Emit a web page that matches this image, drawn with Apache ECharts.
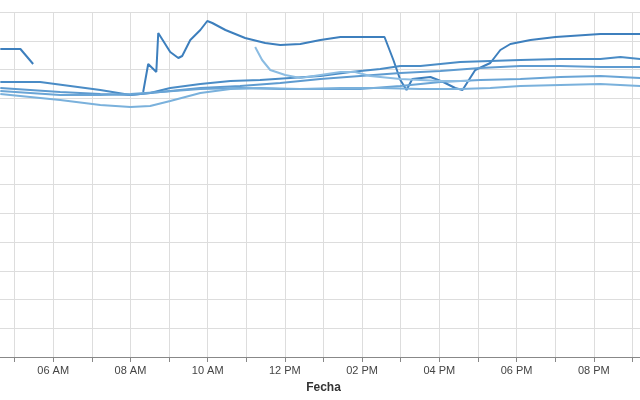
<!DOCTYPE html>
<html><head><meta charset="utf-8">
<script src="https://cdn.jsdelivr.net/npm/echarts@6/dist/echarts.min.js"></script>
<style>html,body{margin:0;padding:0;background:#fff;overflow:hidden}#c{width:640px;height:400px}</style>
</head><body><div id="c"></div>
<script>
// hours of day (decimal) and readings
const hoursA = [4.63, 5.15, 5.48, null, 8.33, 8.46, 8.67, 8.72, 9.03, 9.24, 9.34, 9.55, 9.81, 9.99, 10.12, 10.46, 10.97, 11.49, 11.88, 12.40, 12.92, 13.44, 14.47, 14.58, 14.81, 14.99, 15.15, 15.30, 15.77, 16.10, 16.41, 16.60, 16.93, 17.32, 17.58, 17.84, 18.36, 19.01, 20.17, 21.21];
const valuesA = [308, 308, 293, null, 265, 293, 285, 324, 305, 299, 301, 317, 327, 336, 334, 327, 319, 314, 312, 313, 317, 320, 320, 320, 297, 277, 267, 278, 280, 275, 269, 267, 287, 294, 307, 313, 317, 320, 323, 323];

const hoursB = [4.63, 5.66, 6.44, 7.22, 8.0, 8.51, 9.03, 9.81, 10.59, 11.36, 12.14, 12.92, 13.70, 14.47, 14.99, 15.51, 16.54, 17.32, 18.10, 19.13, 20.17, 20.69, 21.21];
const valuesB = [275, 275, 271, 267, 262, 264, 269, 273, 276, 277, 279, 281, 285, 288, 291, 291, 295, 296, 297, 298, 298, 300, 298];

const hoursC = [4.63, 6.18, 7.22, 8.0, 8.77, 9.81, 10.84, 11.88, 12.92, 13.95, 14.99, 16.03, 17.06, 18.10, 19.13, 20.17, 21.21];
const valuesC = [269, 265, 263, 262, 265, 269, 271, 274, 278, 281, 284, 286, 289, 291, 291, 290, 290];

const hoursD = [4.63, 6.18, 7.22, 8.0, 8.77, 9.81, 10.84, 11.88, 12.92, 13.95, 14.99, 16.03, 17.06, 18.10, 19.13, 20.17, 21.21];
const valuesD = [266, 262, 262, 263, 265, 268, 269, 268, 268, 268, 271, 275, 277, 278, 280, 281, 279];

const hoursE = [4.63, 6.18, 7.22, 8.0, 8.51, 9.03, 9.81, 10.59, 11.36, 12.40, 13.44, 14.47, 15.51, 16.54, 17.32, 18.10, 19.13, 20.17, 21.21];
const valuesE = [263, 257, 252, 250, 251, 256, 264, 268, 269, 268, 269, 269, 268, 268, 269, 271, 272, 273, 271];

const hoursF = [11.23, 11.41, 11.62, 12.01, 12.40, 12.92, 13.44, 13.82, 14.21, 14.99, 16.03, 16.80];
const valuesF = [310, 297, 287, 282, 279, 282, 285, 285, 281, 278, 276, 276];

const colors = ['#3d7fbd', '#4a8cc6', '#5e9bd0', '#6aa5d6', '#7ab1dc', '#8bbce2'];

function pairs(h, v) { return h.map((x, i) => x === null ? [null, null] : [x, v[i]]); }

function fmtHour(h) {
  if (h % 2 !== 0 || h <= 4 || h >= 22) return '';
  const hh = h % 12 === 0 ? 12 : h % 12;
  return String(hh).padStart(2, '0') + (h < 12 ? ' AM' : ' PM');
}

const chart = echarts.init(document.getElementById('c'));
const line = (name, h, v, c) => ({
  name, type: 'line', data: pairs(h, v), showSymbol: false, connectNulls: false,
  lineStyle: { width: 2, color: c }, itemStyle: { color: c }
});

chart.setOption({
  animation: false,
  grid: { left: -24, right: -31, top: 12, bottom: 43, containLabel: false, outerBoundsMode: 'none' },
  xAxis: {
    type: 'value', min: 4, max: 22, interval: 1,
    name: 'Fecha', nameLocation: 'middle', nameGap: 25,
    nameTextStyle: { fontWeight: 'bold', fontSize: 12, color: '#333', fontFamily: 'Liberation Sans' },
    axisLine: { lineStyle: { color: '#888' } },
    axisTick: { length: 5, lineStyle: { color: '#888' } },
    axisLabel: { formatter: fmtHour, fontSize: 11, color: '#444', fontFamily: 'Liberation Sans', margin: 8 },
    splitLine: { lineStyle: { color: '#ddd' } }
  },
  yAxis: {
    type: 'value', min: 0, max: 345, interval: 28.75,
    axisLabel: { show: false }, axisLine: { show: false }, axisTick: { show: false },
    splitLine: { lineStyle: { color: '#ddd' } }
  },
  series: [
    line('A', hoursA, valuesA, colors[0]),
    line('B', hoursB, valuesB, colors[1]),
    line('C', hoursC, valuesC, colors[2]),
    line('D', hoursD, valuesD, colors[3]),
    line('E', hoursE, valuesE, colors[4]),
    line('F', hoursF, valuesF, colors[5])
  ]
});
</script></body></html>
